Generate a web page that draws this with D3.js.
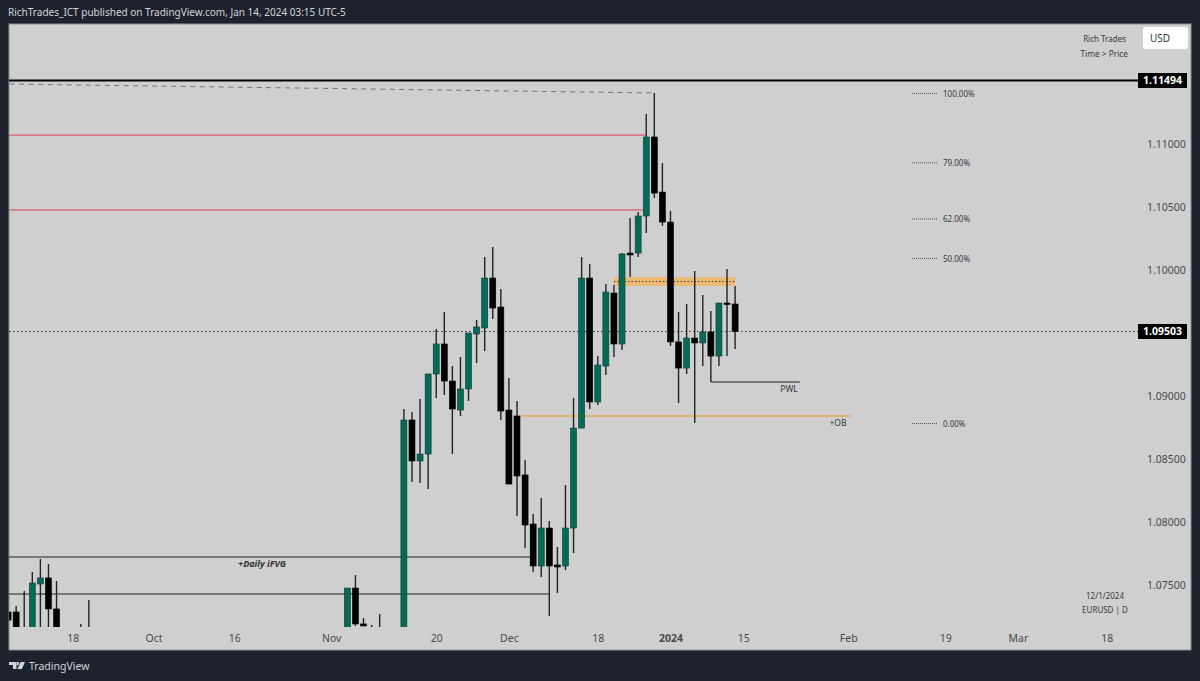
<!DOCTYPE html>
<html>
<head>
<meta charset="utf-8">
<script src="https://cdn.jsdelivr.net/npm/d3@7"></script>
<style>
    html, body { margin: 0; padding: 0; background: #1e222d; }
    svg { display: block; }
    text { font-family: "Noto Sans", "Open Sans", sans-serif; }
</style>
</head>
<body>
<div id="chart"></div>
<script>
// bar number counted in trading days from Sep 18 (visible bars only)
const barIndex = [-8, -7, -6, -5, -4, -3, -2, 1, 2, 34, 35, 36, 37, 38, 41, 42, 43, 44, 45, 46, 47, 48, 49, 50, 51, 52, 53, 54, 55, 56, 57, 58, 59, 60, 61, 62, 63, 64, 65, 66, 67, 68, 69, 70, 71, 72, 73, 74, 75, 76, 77, 78, 79, 80, 81, 82];
const opens = [1.07278, 1.07278, 1.0703, 1.07056, 1.075, 1.07548, 1.07302, 1.0705, 1.0705, 1.07056, 1.07468, 1.07183, 1.0705, 1.0705, 1.07056, 1.08801, 1.08476, 1.08531, 1.09166, 1.09404, 1.0911, 1.0888, 1.09047, 1.09483, 1.09531, 1.09927, 1.09697, 1.0888, 1.08833, 1.08365, 1.07976, 1.07643, 1.07944, 1.07651, 1.07643, 1.07944, 1.08737, 1.09927, 1.08944, 1.09229, 1.09808, 1.09404, 1.10125, 1.10125, 1.10419, 1.11046, 1.10609, 1.10371, 1.0942, 1.09213, 1.09451, 1.09412, 1.09499, 1.09308, 1.09729, 1.09721];
const highs = [1.07278, 1.07325, 1.07444, 1.07595, 1.07698, 1.07659, 1.07524, 1.07183, 1.07373, 1.07468, 1.07571, 1.0723, 1.07175, 1.07262, 1.08888, 1.08864, 1.08967, 1.09166, 1.09523, 1.09658, 1.09229, 1.09301, 1.09491, 1.09594, 1.10094, 1.10173, 1.0984, 1.09134, 1.08952, 1.08484, 1.08055, 1.08182, 1.08, 1.07793, 1.08285, 1.08975, 1.10094, 1.10038, 1.09308, 1.0988, 1.09872, 1.10125, 1.10403, 1.10451, 1.11228, 1.11395, 1.10839, 1.10459, 1.09658, 1.09721, 1.09983, 1.09792, 1.09665, 1.09729, 1.09999, 1.09864];
const lows = [1.07214, 1.07056, 1.07, 1.07056, 1.07056, 1.07056, 1.07056, 1.0703, 1.0703, 1.07056, 1.07167, 1.07167, 1.0703, 1.0703, 1.07056, 1.08309, 1.08301, 1.08254, 1.08975, 1.08999, 1.08531, 1.08833, 1.08952, 1.09253, 1.09348, 1.09602, 1.08801, 1.08293, 1.08039, 1.07786, 1.07595, 1.07556, 1.07246, 1.07429, 1.07611, 1.07746, 1.08737, 1.08888, 1.0892, 1.09158, 1.09301, 1.09356, 1.09935, 1.10094, 1.10284, 1.10562, 1.1034, 1.09388, 1.08936, 1.09166, 1.08777, 1.09229, 1.09102, 1.09229, 1.09308, 1.09364];
const closes = [1.07214, 1.07056, 1.0704, 1.07508, 1.07548, 1.07302, 1.07056, 1.0704, 1.0706, 1.07468, 1.07183, 1.07167, 1.0704, 1.0706, 1.08801, 1.08476, 1.08531, 1.09166, 1.09404, 1.0911, 1.08888, 1.09047, 1.09491, 1.09539, 1.09927, 1.09689, 1.08872, 1.08293, 1.08357, 1.07968, 1.07643, 1.07944, 1.07643, 1.07635, 1.07944, 1.08737, 1.09927, 1.08944, 1.09237, 1.09816, 1.09404, 1.10118, 1.1011, 1.10419, 1.11046, 1.10601, 1.10371, 1.0942, 1.09213, 1.09451, 1.09412, 1.09499, 1.09308, 1.09729, 1.09717, 1.09503];

// 1.09500 sits under the last price tag, as in the original
const priceTicks = [1.075, 1.08, 1.085, 1.09, 1.1, 1.105, 1.11];
const dateTickIndex = [0, 10, 20, 32, 45, 54, 65, 74, 83, 96, 108, 117, 128];
const dateTickLabels = ['18', 'Oct', '16', 'Nov', '20', 'Dec', '18', '2024', '15', 'Feb', '19', 'Mar', '18'];

const fibPrices = [1.11395, 1.10845, 1.104, 1.10086, 1.08777];
const fibLabels = ['100.00%', '79.00%', '62.00%', '50.00%', '0.00%'];

const resistance = 1.11494;
const lastPrice = 1.09503;
const redLevels = [1.11061, 1.10467];
const redEnds = [71, 70.6];
const ifvgLevels = [1.07714, 1.07421];
const ifvgEnds = [57, 59];
const dashedStart = [-7.8, 1.11466];
const dashedEnd = [72, 1.11395];
const orderBlock = 1.08833;
const pwl = 1.09102;
const gapTop = 1.09935;
const gapBottom = 1.09864;
const gapMid = 1.099;

const width = 1200, height = 681;
const pane = { left: 9, top: 24, right: 1191, bottom: 650 };
const plotBottom = 627;
const scaleX = 1138; // price labels start here

const green = '#07695a';

const x = d3.scaleLinear().domain([0, 128]).range([72.7, 1106.7]);
const y = d3.scaleLinear().domain([1.075, 1.11494]).range([584, 80.5]);

const svg = d3.select('#chart').append('svg')
    .attr('width', width)
    .attr('height', height);

svg.append('rect')
    .attr('width', width).attr('height', height)
    .attr('fill', '#1e222d');

svg.append('rect')
    .attr('x', pane.left).attr('y', pane.top)
    .attr('width', pane.right - pane.left).attr('height', pane.bottom - pane.top)
    .attr('fill', '#cfcfcf')
    .attr('stroke', '#8f9196');

svg.append('clipPath').attr('id', 'plot')
    .append('rect')
    .attr('x', pane.left).attr('y', pane.top)
    .attr('width', pane.right - pane.left).attr('height', plotBottom - pane.top);

const plot = svg.append('g').attr('clip-path', 'url(#plot)');

// levels behind the candles
function level(x1, x2, price, color, w, dash) {
    plot.append('line')
        .attr('x1', x1).attr('x2', x2)
        .attr('y1', y(price)).attr('y2', y(price))
        .attr('stroke', color)
        .attr('stroke-width', w)
        .attr('stroke-dasharray', dash || null);
}

level(pane.left, scaleX, resistance, '#000', 2);
level(pane.left, scaleX, lastPrice, '#333', 1, '1.5 2.5');

redLevels.forEach((p, i) => level(pane.left, x(redEnds[i]), p, '#e02c3c', 0.9));
ifvgLevels.forEach((p, i) => level(pane.left, x(ifvgEnds[i]), p, '#222', 1.1));

plot.append('line')
    .attr('x1', x(dashedStart[0])).attr('y1', y(dashedStart[1]))
    .attr('x2', x(dashedEnd[0])).attr('y2', y(dashedEnd[1]))
    .attr('stroke', '#6f7480')
    .attr('stroke-dasharray', '5 4.5');

plot.append('rect')
    .attr('x', x(67)).attr('width', x(82) - x(67))
    .attr('y', y(gapTop)).attr('height', y(gapBottom) - y(gapTop))
    .attr('fill', '#f0b45f')
    .attr('fill-opacity', 0.8);
level(x(67), x(82), gapMid, '#4a3a20', 1, '1.5 2');

level(x(55) + 3, x(96.3), orderBlock, '#e8a862', 1.5);

// PWL hangs off the wick of bar 79
level(x(79), x(90), pwl, '#222', 1.1);

const candles = barIndex.map((n, i) => ({
    n, open: opens[i], high: highs[i], low: lows[i], close: closes[i]
}));

plot.selectAll('line.wick')
    .data(candles)
    .join('line')
    .attr('class', 'wick')
    .attr('x1', d => x(d.n)).attr('x2', d => x(d.n))
    .attr('y1', d => y(d.high)).attr('y2', d => y(d.low))
    .attr('stroke', '#222')
    .attr('stroke-width', 1.4);

plot.selectAll('rect.body')
    .data(candles)
    .join('rect')
    .attr('class', 'body')
    .attr('x', d => x(d.n) - 3)
    .attr('width', 6)
    .attr('y', d => y(Math.max(d.open, d.close)))
    .attr('height', d => Math.max(1.5, Math.abs(y(d.open) - y(d.close))))
    .attr('fill', d => d.close > d.open ? green : '#000')
    .attr('stroke', d => d.close > d.open ? '#0b3d36' : '#000')
    .attr('stroke-width', 0.6);

// axes
const xAxis = d3.axisBottom(x)
    .tickValues(dateTickIndex)
    .tickSize(0)
    .tickPadding(0)
    .tickFormat((d, i) => dateTickLabels[i]);

const gx = svg.append('g')
    .attr('transform', `translate(0,${plotBottom + 4})`)
    .call(xAxis);
gx.select('.domain').remove();
gx.selectAll('text')
    .attr('y', 0)
    .attr('dy', '1em')
    .attr('fill', '#4a4a4a')
    .style('font-size', '10.5px')
    .style('font-weight', (d, i) => dateTickLabels[i] === '2024' ? 700 : 400);

const yAxis = d3.axisRight(y)
    .tickValues(priceTicks)
    .tickSize(0)
    .tickPadding(0)
    .tickFormat(d3.format('.5f'));

const gy = svg.append('g')
    .attr('transform', 'translate(1147,1)')
    .call(yAxis);
gy.select('.domain').remove();
gy.selectAll('text')
    .attr('fill', '#4a4a4a')
    .style('font-size', '10.5px');

// price tags
[resistance, lastPrice].forEach(p => {
    svg.append('rect')
        .attr('x', scaleX).attr('width', 49)
        .attr('y', y(p) - 7.5).attr('height', 15)
        .attr('fill', '#000');
    svg.append('text')
        .attr('x', 1162.5).attr('y', y(p))
        .attr('dy', '0.35em')
        .attr('text-anchor', 'middle')
        .attr('fill', '#fff')
        .style('font-size', '10.5px')
        .style('font-weight', 700)
        .text(d3.format('.5f')(p));
});

// fib levels
const fib = svg.append('g');
fibPrices.forEach((p, i) => {
    fib.append('line')
        .attr('x1', 912).attr('x2', 938)
        .attr('y1', y(p) + 0.5).attr('y2', y(p) + 0.5)
        .attr('stroke', '#555')
        .attr('stroke-dasharray', '1 1');
    fib.append('text')
        .attr('x', 943).attr('y', y(p) + 0.8)
        .attr('dy', '0.35em')
        .attr('fill', '#3a3a3a')
        .style('font-size', '8px')
        .text(fibLabels[i]);
});

function label(tx, ty, text, size, anchor, color) {
    return svg.append('text')
        .attr('x', tx).attr('y', ty)
        .attr('dy', '0.35em')
        .attr('text-anchor', anchor || 'start')
        .attr('fill', color || '#3a3a3a')
        .style('font-size', size + 'px')
        .text(text);
}

label(262, 564, '+Daily iFVG', 9, 'middle', '#333')
    .style('font-weight', 700)
    .style('font-style', 'italic');
label(789, 389, 'PWL', 8.5, 'middle');
label(838, 423, '+OB', 8.5, 'middle');

label(1126, 39.5, 'Rich Trades', 8, 'end');
label(1128, 54, 'Time > Price', 8.3, 'end');
label(1105, 596, '12/1/2024', 8, 'middle');
label(1105, 610, 'EURUSD | D', 8, 'middle');

svg.append('rect')
    .attr('x', 1143).attr('y', 27)
    .attr('width', 45).attr('height', 22)
    .attr('rx', 3)
    .attr('fill', '#fff');
label(1160, 38.5, 'USD', 10, 'middle', '#333');

// header and footer
label(8, 12.5, 'RichTrades_ICT published on TradingView.com, Jan 14, 2024 03:15 UTC-5', 10, 'start', '#d1d4dc');
label(29, 666, 'TradingView', 10.5, 'start', '#d1d4dc');

// logo
svg.append('path')
    .attr('d', 'M9 662h7.5v7h-3.5v-4h-4z M17.5 662a1.6 1.6 0 1 0 0.01 0z M20.5 662h4.5l-3.2 7h-4.3z')
    .attr('fill', '#d1d4dc');
</script>
</body>
</html>
